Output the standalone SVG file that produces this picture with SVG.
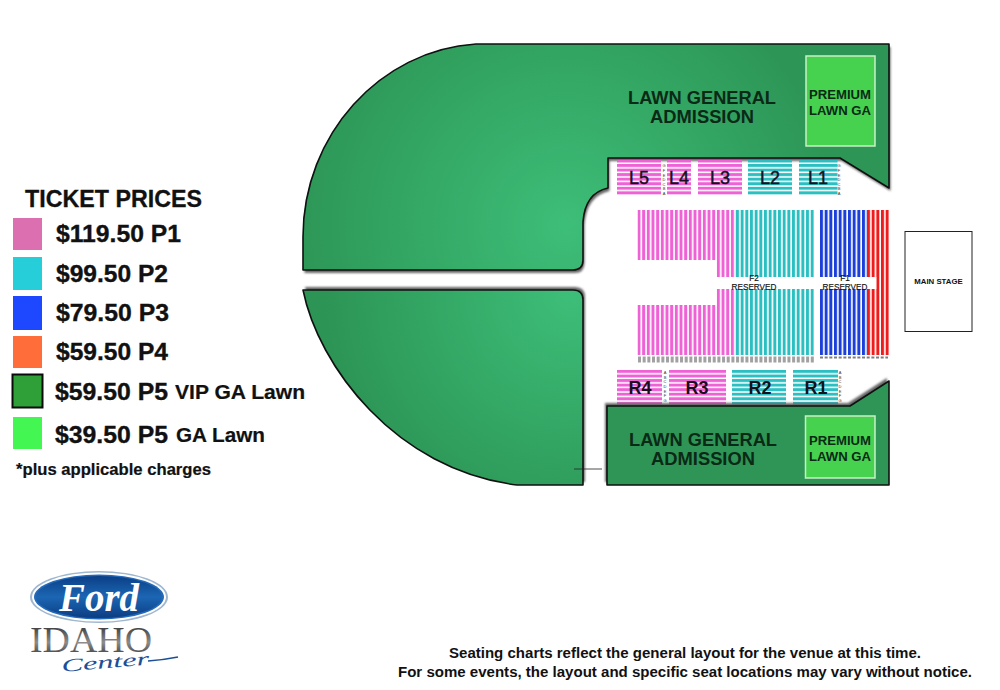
<svg xmlns="http://www.w3.org/2000/svg" width="1000" height="690" viewBox="0 0 1000 690">
<style>
text{font-family:"Liberation Sans",Arial,sans-serif;fill:#111}
.b{font-weight:bold}
.price{font-weight:bold;font-size:24.5px;stroke:#111;stroke-width:.35}
.sub{font-weight:bold;font-size:20px;stroke:#111;stroke-width:.2}
.lawn{font-weight:bold;font-size:18.5px;text-anchor:middle;fill:#0b2a16}
.prem{font-weight:bold;font-size:13.5px;text-anchor:middle;fill:#0b2a16}
.sec{font-size:18px;text-anchor:middle;fill:#15101c;stroke:#15101c;stroke-width:.45}
.secb{font-size:18px;font-weight:bold;text-anchor:middle;fill:#15101c}
.res{font-size:8.2px;text-anchor:middle;fill:#111;stroke:#111;stroke-width:.15}
.row{font-size:4px;text-anchor:middle;fill:#333}
.out{stroke:#111;stroke-width:1.6;stroke-linejoin:round}
.shadow{fill:#666;filter:url(#soft)}
</style>
<defs>
<filter id="soft" x="-5%" y="-5%" width="110%" height="110%"><feGaussianBlur stdDeviation="1"/></filter>
<radialGradient id="gU" gradientUnits="userSpaceOnUse" cx="565" cy="225" r="270"><stop offset="0" stop-color="#3dbe78"/><stop offset="1" stop-color="#2d9656"/></radialGradient>
<radialGradient id="gL" gradientUnits="userSpaceOnUse" cx="570" cy="295" r="250"><stop offset="0" stop-color="#3dbe78"/><stop offset="1" stop-color="#2c9455"/></radialGradient>
<linearGradient id="oval" x1="0" y1="0" x2="0" y2="1"><stop offset="0" stop-color="#0b3f86"/><stop offset=".5" stop-color="#1c66b4"/><stop offset="1" stop-color="#0c3d82"/></linearGradient>
<linearGradient id="idaho" x1="0" y1="0" x2="0" y2="1"><stop offset="0" stop-color="#222"/><stop offset=".55" stop-color="#8d8d8d"/><stop offset="1" stop-color="#222"/></linearGradient>
<pattern id="hP" width="10" height="4.55" patternUnits="userSpaceOnUse" y="159.5"><rect width="10" height="3" fill="#ee62d6"/></pattern>
<pattern id="hT" width="10" height="4.55" patternUnits="userSpaceOnUse" y="159.5"><rect width="10" height="3" fill="#2cbfc2"/></pattern>
<pattern id="hP2" width="10" height="4.55" patternUnits="userSpaceOnUse" y="370"><rect width="10" height="3" fill="#ee62d6"/></pattern>
<pattern id="hT2" width="10" height="4.55" patternUnits="userSpaceOnUse" y="370"><rect width="10" height="3" fill="#2cbfc2"/></pattern>
<pattern id="vP" width="4.67" height="10" patternUnits="userSpaceOnUse" x="637.5"><rect width="3" height="10" fill="#ee62d6"/></pattern>
<pattern id="vT" width="4.67" height="10" patternUnits="userSpaceOnUse" x="736"><rect width="3" height="10" fill="#2cbfc2"/></pattern>
<pattern id="vB" width="4.67" height="10" patternUnits="userSpaceOnUse" x="820"><rect width="3" height="10" fill="#1b3fd8"/></pattern>
<pattern id="vR" width="4.67" height="10" patternUnits="userSpaceOnUse" x="867"><rect width="3" height="10" fill="#ee1c1c"/></pattern>
<path id="pU" d="M889,44 H476 C380,50 303,135 303,237 V270 H573 Q583,270 583,260 V222 Q585,193 608,188 V158 H840 L889,188 Z"/>
<path id="pL" d="M303,290 H573 Q583,290 583,300 V485 H517 C395,470 318,365 303,290 Z"/>
<path id="pT" d="M607,406 H850 L889,381 V485 H607 Z"/>
</defs>
<rect width="1000" height="690" fill="#fff"/>

<g id="legend">
<text class="b" x="25" y="207" font-size="23.5" stroke="#111" stroke-width=".3" textLength="177" lengthAdjust="spacingAndGlyphs">TICKET PRICES</text>
<rect x="13" y="218" width="29" height="32" fill="#db6fb0"/>
<rect x="13" y="257" width="29" height="33" fill="#25ced8"/>
<rect x="13" y="296" width="29" height="34" fill="#1e48ff"/>
<rect x="13" y="336" width="29" height="32" fill="#ff6d3a"/>
<rect x="12.5" y="374.5" width="30" height="33" fill="#2fa038" stroke="#0a0a0a" stroke-width="2"/>
<rect x="13" y="417" width="29" height="32" fill="#43f651"/>
<text class="price" x="56" y="242" textLength="125" lengthAdjust="spacingAndGlyphs">$119.50 P1</text>
<text class="price" x="56" y="282" textLength="112" lengthAdjust="spacingAndGlyphs">$99.50 P2</text>
<text class="price" x="56" y="321" textLength="113" lengthAdjust="spacingAndGlyphs">$79.50 P3</text>
<text class="price" x="56" y="360" textLength="112" lengthAdjust="spacingAndGlyphs">$59.50 P4</text>
<text class="price" x="55" y="400" textLength="113" lengthAdjust="spacingAndGlyphs">$59.50 P5</text>
<text class="sub" x="175" y="399" textLength="130" lengthAdjust="spacingAndGlyphs">VIP GA Lawn</text>
<text class="price" x="55" y="443" textLength="113" lengthAdjust="spacingAndGlyphs">$39.50 P5</text>
<text class="sub" x="176" y="442" textLength="89" lengthAdjust="spacingAndGlyphs">GA Lawn</text>
<text class="b" x="16" y="475" font-size="16" stroke="#111" stroke-width=".2" textLength="195" lengthAdjust="spacingAndGlyphs">*plus applicable charges</text>
</g>

<g id="lawn-upper">
<use href="#pU" class="shadow" transform="translate(1.5,3)"/>
<use href="#pU" class="out" fill="url(#gU)"/>
<text class="lawn" x="702" y="103.500" textLength="148" lengthAdjust="spacingAndGlyphs">LAWN GENERAL</text>
<text class="lawn" x="702" y="122.500" textLength="104" lengthAdjust="spacingAndGlyphs">ADMISSION</text>
</g>
<g id="premium-upper">
<rect x="806" y="56" width="69" height="90" fill="#46d24f" stroke="#c8f0c8" stroke-width="1.5"/>
<text class="prem" x="840" y="99" textLength="62" lengthAdjust="spacingAndGlyphs">PREMIUM</text>
<text class="prem" x="840" y="115" textLength="62" lengthAdjust="spacingAndGlyphs">LAWN GA</text>
</g>
<g id="lawn-lower-left">
<use href="#pL" class="shadow" transform="translate(2,-3)"/>
<use href="#pL" class="out" fill="url(#gL)"/>
</g>

<g id="section-L5"><rect x="617" y="160" width="44" height="35" fill="url(#hP)"/><text class="sec" x="639" y="184">L5</text></g>
<g id="section-L4"><rect x="667" y="160" width="24" height="35" fill="url(#hP)"/><text class="sec" x="679" y="184">L4</text></g>
<g id="section-L3"><rect x="698" y="160" width="44" height="35" fill="url(#hP)"/><text class="sec" x="720" y="184">L3</text></g>
<g id="section-L2"><rect x="748" y="160" width="44" height="35" fill="url(#hT)"/><text class="sec" x="770" y="184">L2</text></g>
<g id="section-L1"><rect x="799" y="160" width="38.500" height="35" fill="url(#hT)"/><text class="sec" x="818" y="184">L1</text></g>
<g id="rows-L">
<text class="row" x="664" y="167">G</text><text class="row" x="664" y="172">F</text><text class="row" x="664" y="176.500">E</text><text class="row" x="664" y="181">D</text><text class="row" x="664" y="185.500">C</text><text class="row" x="664" y="190">B</text><text class="row" x="664" y="195">A</text>
<text class="row" x="839" y="167">G</text><text class="row" x="839" y="172">F</text><text class="row" x="839" y="176.500">E</text><text class="row" x="839" y="181">D</text><text class="row" x="839" y="185.500">C</text><text class="row" x="839" y="190">B</text><text class="row" x="839" y="195">A</text>
</g>

<g id="section-F-pink">
<rect x="637.500" y="210" width="79" height="50" fill="url(#vP)"/>
<rect x="716.500" y="210" width="19" height="67" fill="url(#vP)"/>
<rect x="637.500" y="305" width="79" height="50" fill="url(#vP)"/>
<rect x="716.500" y="289" width="19" height="66" fill="url(#vP)"/>
</g>
<g id="section-F2">
<rect x="736" y="210" width="78" height="67" fill="url(#vT)"/>
<rect x="736" y="289" width="78" height="66" fill="url(#vT)"/>
<text class="res" x="754" y="281">F2</text><text class="res" x="754" y="290">RESERVED</text>
</g>
<g id="section-F1">
<rect x="820" y="210" width="47" height="67" fill="url(#vB)"/>
<rect x="820" y="289" width="47" height="66" fill="url(#vB)"/>
<text class="res" x="845" y="281">F1</text><text class="res" x="845" y="290">RESERVED</text>
</g>
<g id="section-red">
<rect x="867" y="210" width="9.500" height="67" fill="url(#vR)"/>
<rect x="867" y="289" width="9.500" height="66" fill="url(#vR)"/>
<rect x="876.300" y="210" width="13" height="145" fill="url(#vR)"/>
</g>
<g id="row-marks" fill="none" stroke="#444">
<line x1="638" y1="359.500" x2="814" y2="359.500" stroke-width="6" stroke-dasharray="3 1.670" opacity=".5"/>
<line x1="820" y1="357.500" x2="888" y2="357.500" stroke-width="2" stroke-dasharray="3 1.670" opacity=".7"/>
</g>

<g id="section-R4"><rect x="617" y="370" width="45" height="36" fill="url(#hP2)"/><text class="secb" x="640" y="394">R4</text></g>
<g id="section-R3"><rect x="669" y="370" width="57" height="36" fill="url(#hP2)"/><text class="secb" x="697" y="394">R3</text></g>
<g id="section-R2"><rect x="732" y="370" width="54" height="36" fill="url(#hT2)"/><text class="secb" x="760" y="394">R2</text></g>
<g id="section-R1"><rect x="793" y="370" width="45" height="36" fill="url(#hT2)"/><text class="secb" x="816" y="394">R1</text></g>
<g id="rows-R">
<text class="row" x="665" y="374">A</text><text class="row" x="665" y="378.500">B</text><text class="row" x="665" y="383">C</text><text class="row" x="665" y="388">D</text><text class="row" x="665" y="392.500">E</text><text class="row" x="665" y="397">F</text><text class="row" x="665" y="402">G</text>
<text class="row" x="840" y="374">A</text><text class="row" x="840" y="378.500">B</text><text class="row" x="840" y="383">C</text><text class="row" x="840" y="388">D</text><text class="row" x="840" y="392.500">E</text><text class="row" x="840" y="397">F</text><text class="row" x="840" y="402">G</text>
</g>

<g id="lawn-lower-right">
<use href="#pT" class="shadow" transform="translate(-2,-3)"/>
<use href="#pT" class="out" fill="#2f9556"/>
<text class="lawn" x="703" y="446" textLength="148" lengthAdjust="spacingAndGlyphs">LAWN GENERAL</text>
<text class="lawn" x="703" y="465" textLength="104" lengthAdjust="spacingAndGlyphs">ADMISSION</text>
</g>
<g id="premium-lower">
<rect x="805.500" y="416" width="69.500" height="62" fill="#46d24f" stroke="#c8f0c8" stroke-width="1.500"/>
<text class="prem" x="840" y="445" textLength="62" lengthAdjust="spacingAndGlyphs">PREMIUM</text>
<text class="prem" x="840" y="461" textLength="62" lengthAdjust="spacingAndGlyphs">LAWN GA</text>
</g>
<g id="connectors"><line x1="574" y1="469" x2="602" y2="469" stroke="#222" stroke-width=".8"/></g>

<g id="main-stage">
<rect x="905" y="231.500" width="67" height="100" fill="#fff" stroke="#222" stroke-width="1"/>
<text class="b" x="938.500" y="284" font-size="7.800" text-anchor="middle">MAIN STAGE</text>
</g>

<g id="logo">
<ellipse cx="99" cy="597" rx="69" ry="26" fill="#9fb6cf"/>
<ellipse cx="99" cy="597" rx="67" ry="24.500" fill="#fff"/>
<ellipse cx="99" cy="597" rx="65" ry="22.500" fill="#2469b8"/>
<ellipse cx="99" cy="597" rx="63" ry="21" fill="url(#oval)"/>
<text x="99" y="611" font-size="40" font-weight="bold" font-style="italic" text-anchor="middle" textLength="80" lengthAdjust="spacingAndGlyphs" style="font-family:'Liberation Serif',serif;fill:#fff">Ford</text>
<text x="30" y="652" font-size="35" textLength="122" lengthAdjust="spacingAndGlyphs" style="font-family:'Liberation Serif',serif;fill:url(#idaho)">IDAHO</text>
<text x="62" y="672" font-size="18" font-style="italic" transform="rotate(-5 62 672)" textLength="88" lengthAdjust="spacingAndGlyphs" style="font-family:'Liberation Serif',serif;fill:#1d4f96">Center</text>
<path d="M148,661 Q163,660 178,657" fill="none" stroke="#1d4f96" stroke-width="1.500"/>
</g>

<g id="note">
<text class="b" x="685" y="658" font-size="14" text-anchor="middle" textLength="472" lengthAdjust="spacingAndGlyphs">Seating charts reflect the general layout for the venue at this time.</text>
<text class="b" x="685" y="677" font-size="14" text-anchor="middle" textLength="574" lengthAdjust="spacingAndGlyphs">For some events, the layout and specific seat locations may vary without notice.</text>
</g>
</svg>
